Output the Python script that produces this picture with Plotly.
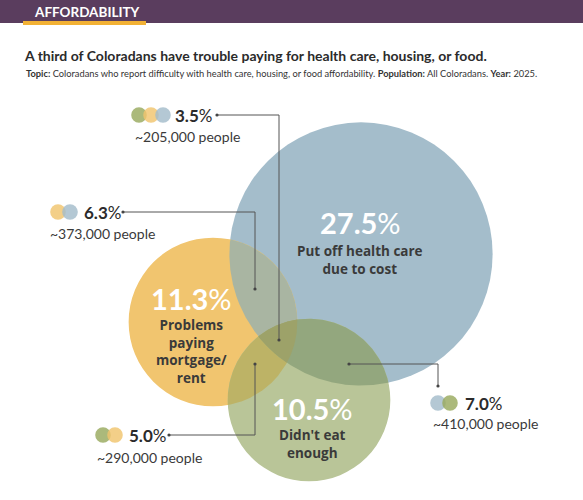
import numpy as np
import plotly.graph_objects as go

# ---------------- data ----------------
categories = ["Put off health care<br>due to cost", "Problems<br>paying<br>mortgage/<br>rent", "Didn't eat<br>enough"]
values = [27.5, 11.3, 10.5]
overlap_values = [3.5, 6.3, 7.0, 5.0]
overlap_people = ["~205,000 people", "~373,000 people", "~410,000 people", "~290,000 people"]
overlap_sets = [[2, 1, 0], [1, 0], [0, 2], [2, 1]]  # indices into categories (0 blue, 1 orange, 2 green)

# ---------------- styling / layout ----------------
W, H = 583, 500
base_colors = ["#a4bdcb", "#f1c56f", "#b9c598"]
small_colors = ["#a3bccb", "#f0c46e", "#98aa5e"]
pair_colors = {(0, 1): "#a9b5a2", (1, 2): "#bdb366", (0, 2): "#93a77e"}
triple_color = "#9da269"
centers = [(361, 254), (213, 322), (309, 400)]
k = 25.1
radii = [k * np.sqrt(v) for v in values]
FONT = "Lato"
dark = "#3a3a3a"

fig = go.Figure()
shapes = []
annotations = []

# header
shapes.append(dict(type="rect", x0=0, x1=W, y0=0, y1=23, fillcolor="#5a3d5e", line_width=0, layer="above"))
shapes.append(dict(type="rect", x0=23, x1=146, y0=21, y1=25, fillcolor="#f2b134", line_width=0, layer="above"))
annotations.append(dict(x=32, y=12, text="<b>AFFORDABILITY</b>", showarrow=False, xanchor="left", yanchor="middle",
                        font=dict(family=FONT, size=13.5, color="white")))
annotations.append(dict(x=22, y=55, text="<b>A third of Coloradans have trouble paying for health care, housing, or food.</b>",
                        showarrow=False, xanchor="left", yanchor="middle", font=dict(family=FONT, size=14, color="#2b2b2b")))
annotations.append(dict(x=24, y=73, text="<b>Topic:</b> Coloradans who report difficulty with health care, housing, or food affordability. "
                        "<b>Population:</b> All Coloradans. <b>Year:</b> 2025.",
                        showarrow=False, xanchor="left", yanchor="middle", font=dict(family=FONT, size=9.3, color="#333")))

# base circles
for (cx, cy), r, c in zip(centers, radii, base_colors):
    shapes.append(dict(type="circle", x0=cx - r, x1=cx + r, y0=cy - r, y1=cy + r, fillcolor=c, line_width=0, layer="below"))


def region(idx):
    pts = []
    th = np.linspace(0, 2 * np.pi, 1440, endpoint=False)
    for i in idx:
        cx, cy = centers[i]
        px = cx + radii[i] * np.cos(th)
        py = cy + radii[i] * np.sin(th)
        ok = np.ones_like(px, dtype=bool)
        for j in idx:
            if j == i:
                continue
            ok &= (px - centers[j][0]) ** 2 + (py - centers[j][1]) ** 2 <= radii[j] ** 2 + 1e-6
        pts.append(np.column_stack([px[ok], py[ok]]))
    P = np.vstack(pts)
    c = P.mean(axis=0)
    order = np.argsort(np.arctan2(P[:, 1] - c[1], P[:, 0] - c[0]))
    P = P[order]
    return np.append(P[:, 0], P[0, 0]), np.append(P[:, 1], P[0, 1])


for pair, col in pair_colors.items():
    xs, ys = region(list(pair))
    fig.add_trace(go.Scatter(x=xs, y=ys, fill="toself", fillcolor=col, mode="lines", line=dict(width=0),
                             hoverinfo="skip", showlegend=False))
xs, ys = region([0, 1, 2])
fig.add_trace(go.Scatter(x=xs, y=ys, fill="toself", fillcolor=triple_color, mode="lines", line=dict(width=0),
                         hoverinfo="skip", showlegend=False))

# circle labels
label_x = [360, 191, 312]
pct_y = [222, 298, 408]
block_y = [259.5, 351.5, 443.5]
for x, yp, yb, v, cat in zip(label_x, pct_y, block_y, values, categories):
    annotations.append(dict(x=x, y=yp, text="<b>%.1f</b>%%" % v, showarrow=False, xanchor="center", yanchor="middle",
                            font=dict(family=FONT, size=29, color="white")))
    annotations.append(dict(x=x, y=yb, text="<b>%s</b>" % cat, showarrow=False, borderpad=0,
                            xanchor="center", yanchor="middle",
                            font=dict(family="Open Sans", size=13.5, color=dark)))

# overlap callouts
icon_pos = [(139, 115), (58, 212), (438, 403), (103, 435)]
text_x = [173, 82, 463, 127]
people_pos = [(133, 136), (48, 233), (431, 423), (95, 457)]
connectors = [
    [(217, 115), (279, 115), (279, 340)],
    [(123, 212), (255, 212), (255, 289)],
    [(349, 364), (438, 364), (438, 386)],
    [(169, 435), (255, 435), (255, 364)],
]
step = 12
rs = 7.8
for n, (v, ppl, sets) in enumerate(zip(overlap_values, overlap_people, overlap_sets)):
    ix, iy = icon_pos[n]
    for m, s in enumerate(sets):
        cx = ix + m * step
        shapes.append(dict(type="circle", x0=cx - rs, x1=cx + rs, y0=iy - rs, y1=iy + rs,
                           fillcolor=small_colors[s], opacity=0.82, line_width=0, layer="above"))
    annotations.append(dict(x=text_x[n], y=iy, text="<b>%.1f</b>%%" % v, showarrow=False, xanchor="left", yanchor="middle",
                            font=dict(family=FONT, size=17, color="#2b2b2b")))
    px, py = people_pos[n]
    annotations.append(dict(x=px, y=py, text=ppl, showarrow=False, xanchor="left", yanchor="middle",
                            font=dict(family=FONT, size=14, color=dark)))
    pts = connectors[n]
    path = "M %g %g " % pts[0] + " ".join("L %g %g" % p for p in pts[1:])
    shapes.append(dict(type="path", path=path, line=dict(color="#555555", width=1), layer="above"))
    for p in (pts[0], pts[-1]):
        shapes.append(dict(type="circle", x0=p[0] - 1.6, x1=p[0] + 1.6, y0=p[1] - 1.6, y1=p[1] + 1.6,
                           fillcolor="#444444", line_width=0, layer="above"))

fig.update_layout(
    width=W, height=H, autosize=False,
    margin=dict(l=0, r=0, t=0, b=0),
    paper_bgcolor="white", plot_bgcolor="white",
    xaxis=dict(range=[0, W], visible=False, fixedrange=True),
    yaxis=dict(range=[H, 0], visible=False, fixedrange=True),
    shapes=shapes, annotations=annotations, showlegend=False,
)
fig.write_html("out.html", config={"displayModeBar": False})
